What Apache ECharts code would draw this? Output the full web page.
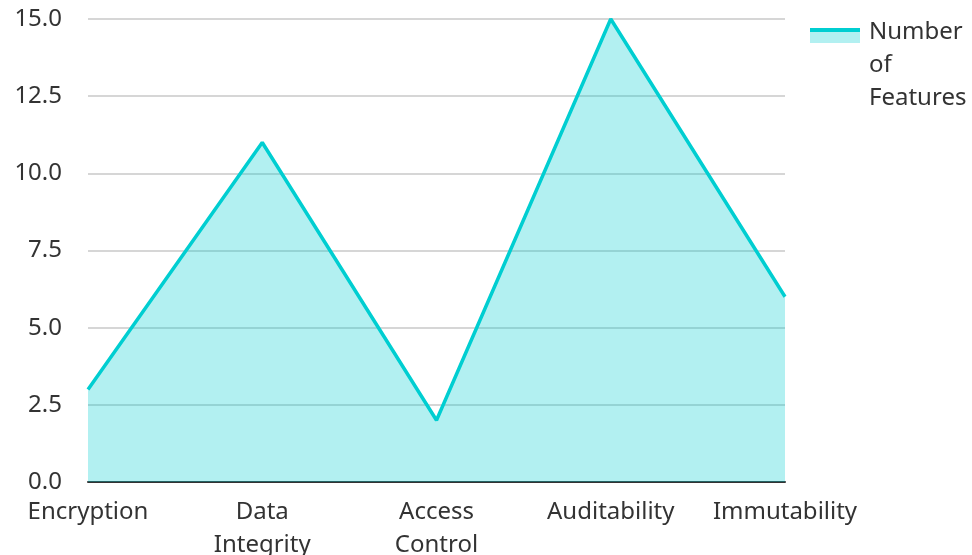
<!DOCTYPE html>
<html><head><meta charset="utf-8">
<script src="https://cdn.jsdelivr.net/npm/echarts@6/dist/echarts.min.js"></script>
<style>html,body{margin:0;padding:0;background:#fff}#c{width:972px;height:555px}</style>
</head><body><div id="c"></div>
<script>
const categories = ['Encryption', 'Data\nIntegrity', 'Access\nControl', 'Auditability', 'Immutability'];
const values = [3, 11, 2, 15, 6];
const seriesName = 'Number\nof\nFeatures';
const yTicks = {min: 0, max: 15, interval: 2.5};

const chart = echarts.init(document.getElementById('c'));
const font = '"Noto Sans", "Open Sans", sans-serif';
const lineColor = '#00CED1';
const areaColor = 'rgba(0,206,209,0.3)';
chart.setOption({
  animation: false,
  textStyle: {fontFamily: font},
  grid: {left: 88, right: 187, top: 19, bottom: 73, containLabel: false, outerBoundsMode: 'none'},
  legend: {
    left: 810, top: 16, orient: 'vertical', padding: 0,
    icon: 'path://M0,0 M54,99 M0,12 L50,12 L50,27 L0,27 Z',
    itemWidth: 54, itemHeight: 99, itemGap: 10,
    symbolKeepAspect: false,
    itemStyle: {color: areaColor, borderWidth: 0},
    textStyle: {fontSize: 24, color: '#333', lineHeight: 33, fontFamily: font},
    data: [{name: seriesName}]
  },
  graphic: [{
    type: 'rect', left: 810, top: 28, shape: {width: 50, height: 4},
    style: {fill: lineColor}, z: 100
  }],
  xAxis: {
    type: 'category', data: categories, boundaryGap: false,
    axisLine: {lineStyle: {color: '#333', width: 2}},
    axisTick: {show: false},
    axisLabel: {fontSize: 24, color: '#333', lineHeight: 33, margin: 14, interval: 0, fontFamily: font},
    splitLine: {show: false}
  },
  yAxis: {
    type: 'value', min: yTicks.min, max: yTicks.max, interval: yTicks.interval,
    axisLine: {show: false}, axisTick: {show: false},
    axisLabel: {fontSize: 24, color: '#333', margin: 26, formatter: v => v.toFixed(1), fontFamily: font},
    splitLine: {lineStyle: {color: '#c8c8c8', width: 1.5}}
  },
  series: [{
    name: seriesName, type: 'line', data: values,
    symbol: 'none',
    lineStyle: {color: lineColor, width: 3.5},
    itemStyle: {color: lineColor},
    areaStyle: {color: lineColor, opacity: 0.3}
  }]
});
</script></body></html>
